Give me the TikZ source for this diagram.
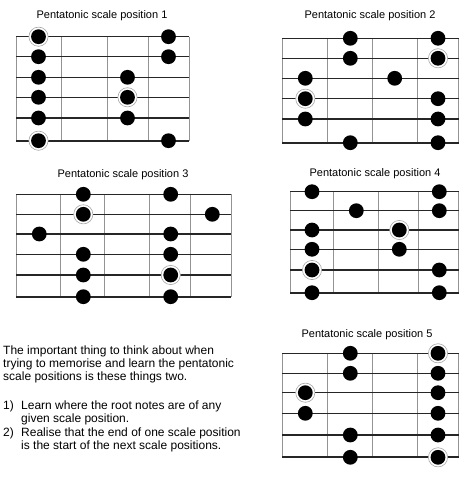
\documentclass[tikz,border=0pt]{standalone}
\usepackage{fontspec}
\setmainfont{Liberation Sans}
\newcommand{\fdot}[2]{\fill[black] (#1,#2) circle (7.4pt);}
\newcommand{\rootnote}[2]{\filldraw[fill=white,draw=gray!70,line width=0.6pt] (#1,#2) circle (9.6pt);\fill[black] (#1,#2) circle (7.4pt);}
% \board{left}{right}{verticals}{strings 1..5}{string6}
\newcommand{\board}[5]{%
  \foreach \vx in {#3} {\draw[fretline] (\vx,#4) -- (\vx,#5);}
  \draw[fretline] (#1,#4) -- (#1,#5);
  \draw[fretline] (#2,#4) -- (#2,#5);
}
\begin{document}
\begin{tikzpicture}[x=1pt,y=-1pt,
  fretline/.style={draw=gray!85,line width=0.9pt},
  strline/.style={draw=black!85,line width=1.1pt},
  lowstr/.style={draw=black!85,line width=1.8pt},
  titletext/.style={font=\fontsize{11}{13}\selectfont,anchor=base},
  bodytext/.style={font=\fontsize{12}{13.4}\selectfont,anchor=base west,inner sep=0pt}]
\useasboundingbox (0,0) rectangle (474,478);

% ---------- Position 1 ----------
\node[titletext] (t1) at (102,19) {Pentatonic scale position 1};
\board{16}{189}{61,107,148}{36.7}{140.7}
\foreach \sy in {36.7,56.7,77.3,97.3,118} {\draw[strline] (16,\sy) -- (189,\sy);}
\draw[lowstr] (16,140.7) -- (189,140.7);
\rootnote{38.5}{36.7}\fdot{38.5}{56.7}\fdot{38.5}{77.3}\fdot{38.5}{97.3}\fdot{38.5}{118}\rootnote{38.5}{140.7}
\fdot{168.5}{36.7}\fdot{168.5}{56.7}\fdot{168.5}{140.7}
\fdot{127.5}{77.3}\rootnote{127.5}{97.3}\fdot{127.5}{118}

% ---------- Position 2 ----------
\node[titletext] (t2) at (370,19) {Pentatonic scale position 2};
\board{282}{458.7}{327,372,417}{38.3}{142.7}
\foreach \sy in {38.3,58.3,78.3,98.7,119} {\draw[strline] (282,\sy) -- (458.7,\sy);}
\draw[lowstr] (282,142.7) -- (458.7,142.7);
\fdot{350.3}{38.3}\fdot{438}{38.3}
\fdot{350.3}{58.3}\rootnote{438}{58.3}
\fdot{305.3}{78.3}\fdot{394.7}{78.3}
\rootnote{305.3}{98.7}\fdot{438}{98.7}
\fdot{305.3}{119}\fdot{438}{119}
\fdot{350.3}{142.7}\fdot{438}{142.7}

% ---------- Position 3 ----------
\node[titletext] (t3) at (123,178) {Pentatonic scale position 3};
\board{16}{231}{60.3,104.7,149.3,190}{194.3}{296.7}
\foreach \sy in {194.3,214.3,234,254.3,275} {\draw[strline] (16,\sy) -- (231,\sy);}
\draw[lowstr] (16,296.7) -- (231,296.7);
\fdot{83.3}{194.3}\fdot{170.7}{194.3}
\rootnote{83.3}{214.3}\fdot{212.3}{214.3}
\fdot{39.3}{234}\fdot{170.7}{234}
\fdot{83.3}{254.3}\fdot{170.7}{254.3}
\fdot{83.3}{275}\rootnote{170.7}{275}
\fdot{83.3}{296.7}\fdot{170.7}{296.7}

% ---------- Position 4 ----------
\node[titletext] (t4) at (375,177) {Pentatonic scale position 4};
\board{290.3}{458.7}{333.7,378.7,418.7}{191.7}{292.7}
\foreach \sy in {191.7,210.7,230,249.3,270} {\draw[strline] (290.3,\sy) -- (458.7,\sy);}
\draw[lowstr] (290.3,292.7) -- (458.7,292.7);
\fdot{312}{191.7}\fdot{439.3}{191.7}
\fdot{356.3}{210.7}\fdot{439.3}{210.7}
\fdot{312}{230}\rootnote{399.3}{230}
\fdot{312}{249.3}\fdot{399.3}{249.3}
\rootnote{312}{270}\fdot{439.3}{270}
\fdot{312}{292.7}\fdot{439.3}{292.7}

% ---------- Position 5 ----------
\node[titletext] (t5) at (367,337) {Pentatonic scale position 5};
\board{282}{458.7}{327.7,372,417}{353.3}{457.3}
\foreach \sy in {353.3,373.3,392.7,413.3,435} {\draw[strline] (282,\sy) -- (458.7,\sy);}
\draw[lowstr] (282,457.3) -- (458.7,457.3);
\fdot{350.3}{353.3}\rootnote{438}{353.3}
\fdot{350.3}{373.3}\fdot{438}{373.3}
\rootnote{305.3}{392.7}\fdot{438}{392.7}
\fdot{305.3}{413.3}\fdot{438}{413.3}
\fdot{350.3}{435}\fdot{438}{435}
\fdot{350.3}{457.3}\rootnote{438}{457.3}

% ---------- Text ----------
\node[bodytext] (p1) at (3,354) {The important thing to think about when};
\node[bodytext] (p2) at (3,367.4) {trying to memorise and learn the pentatonic};
\node[bodytext] (p3) at (3,380.8) {scale positions is these things two.};
\node[bodytext] (n1) at (3,409.5) {1)};
\node[bodytext] (i1a) at (21,409.5) {Learn where the root notes are of any};
\node[bodytext] (i1b) at (21,422.9) {given scale position.};
\node[bodytext] (n2) at (3,436.3) {2)};
\node[bodytext] (i2a) at (21,436.3) {Realise that the end of one scale position};
\node[bodytext] (i2b) at (21,449.7) {is the start of the next scale positions.};
\end{tikzpicture}
\end{document}
